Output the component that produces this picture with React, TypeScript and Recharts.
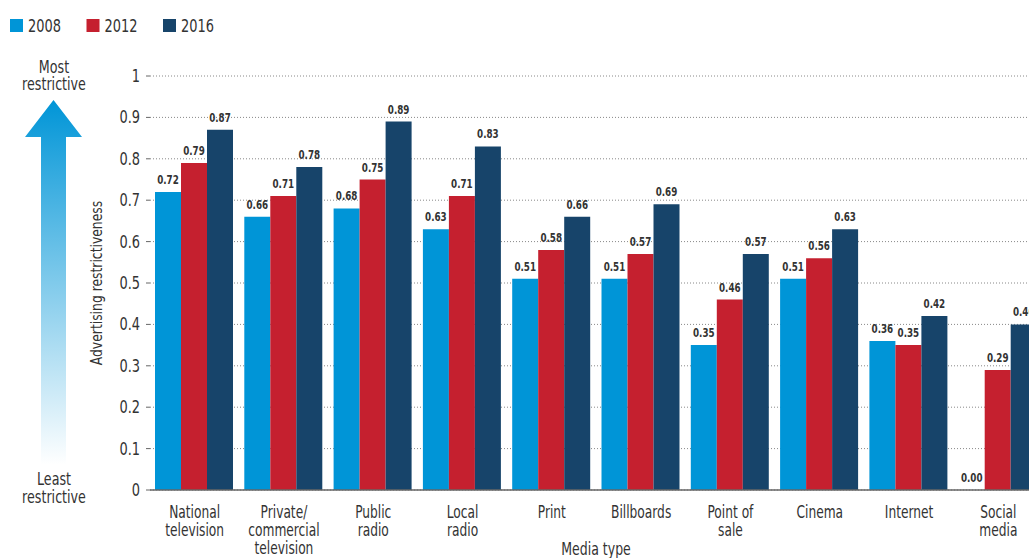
import { BarChart, Bar, XAxis, YAxis, CartesianGrid, LabelList } from 'recharts'

const categories = [
    'National\ntelevision',
    'Private/\ncommercial\ntelevision',
    'Public\nradio',
    'Local\nradio',
    'Print',
    'Billboards',
    'Point of\nsale',
    'Cinema',
    'Internet',
    'Social\nmedia'
]
const v2008 = [0.72, 0.66, 0.68, 0.63, 0.51, 0.51, 0.35, 0.51, 0.36, 0.0]
const v2012 = [0.79, 0.71, 0.75, 0.71, 0.58, 0.57, 0.46, 0.56, 0.35, 0.29]
const v2016 = [0.87, 0.78, 0.89, 0.83, 0.66, 0.69, 0.57, 0.63, 0.42, 0.4]
const yTicks = [0, 0.1, 0.2, 0.3, 0.4, 0.5, 0.6, 0.7, 0.8, 0.9, 1]

const series = [
    { key: 'y2008', name: '2008', color: '#0095d7' },
    { key: 'y2012', name: '2012', color: '#c5202f' },
    { key: 'y2016', name: '2016', color: '#17446a' }
]

const data = categories.map((c, i) => ({
    cat: c,
    y2008: v2008[i],
    y2012: v2012[i],
    y2016: v2016[i]
}))

const FONT = '"DejaVu Sans Condensed", "DejaVu Sans", sans-serif'
const INK = '#333'

// condensed text: squeeze horizontally to get the narrow look of the original
function Txt({ x, y, size = 17, sx = 0.8, anchor = 'middle', weight = 'normal', rotate = 0, children }: any) {
    return (
        <text
            transform={`translate(${x} ${y}) rotate(${rotate}) scale(${sx} 1)`}
            textAnchor={anchor}
            fontSize={size}
            fontWeight={weight}
            fill={INK}
            fontFamily={FONT}
        >
            {children}
        </text>
    )
}

function CatTick(props: any) {
    const { x, y, payload } = props
    const lines = String(payload.value).split('\n')
    return (
        <g>
            {lines.map((l, i) => (
                <Txt key={i} x={x} y={y + 26 + i * 18} size={17}>{l}</Txt>
            ))}
        </g>
    )
}

function ValTick(props: any) {
    const { x, y, payload } = props
    const v = payload.value
    const s = v === 0 ? '0' : v === 1 ? '1' : v.toFixed(1)
    return <Txt x={x} y={y + 6} size={18} anchor="end">{s}</Txt>
}

function ValLabel(props: any) {
    const { x, y, width, value } = props
    return (
        <Txt x={x + width / 2} y={y - 8} size={13} sx={0.75} weight="bold">
            {Number(value).toFixed(2)}
        </Txt>
    )
}

export default function App() {
    return (
        <div style={{ position: 'fixed', left: 0, top: 0, width: 1029, height: 558, overflow: 'hidden', background: '#fff' }}>
            <BarChart
                width={1050}
                height={570}
                data={data}
                margin={{ top: 76, right: 7, bottom: 0, left: 0 }}
                barCategoryGap={5}
                barGap={0}
                style={{ position: 'absolute', left: 0, top: 0 }}
            >
                <CartesianGrid vertical={false} stroke="#888" strokeDasharray="1 2" />
                <XAxis
                    dataKey="cat"
                    height={80}
                    interval={0}
                    tick={<CatTick />}
                    tickLine={false}
                    tickSize={0}
                    axisLine={{ stroke: '#666', strokeWidth: 1.5 }}
                    label={{ content: () => <Txt x={596} y={555} size={17} sx={0.82}>Media type</Txt> }}
                />
                <YAxis
                    width={150}
                    domain={[0, 1]}
                    ticks={yTicks}
                    axisLine={false}
                    tickSize={4}
                    tickMargin={6}
                    tickLine={{ stroke: '#666' }}
                    tick={<ValTick />}
                    label={{
                        content: () => (
                            <Txt x={102} y={283} size={16} sx={0.86} rotate={-90}>Advertising restrictiveness</Txt>
                        )
                    }}
                />
                {series.map((s) => (
                    <Bar key={s.key} dataKey={s.key} name={s.name} fill={s.color} minPointSize={0.01} isAnimationActive={false}>
                        <LabelList dataKey={s.key} content={<ValLabel />} />
                    </Bar>
                ))}
            </BarChart>

            {/* legend and restrictiveness arrow */}
            <svg style={{ position: 'absolute', left: 0, top: 0 }} width={240} height={558}>
                <defs>
                    <linearGradient id="arr" x1="0" y1="0" x2="0" y2="1">
                        <stop offset="0%" stopColor="#0095d7" />
                        <stop offset="100%" stopColor="#0095d7" stopOpacity={0} />
                    </linearGradient>
                </defs>
                {series.map((s, i) => (
                    <g key={s.key}>
                        <rect x={10 + i * 76.5} y={19} width={13} height={13} fill={s.color} />
                        <Txt x={28 + i * 76.5} y={32} size={18} anchor="start">{s.name}</Txt>
                    </g>
                ))}
                <path d="M53.5,100 L82,137 L66,137 L66,465 L41,465 L41,137 L25,137 Z" fill="url(#arr)" />
                <Txt x={54} y={73} sx={0.83}>Most</Txt>
                <Txt x={54} y={90} sx={0.83}>restrictive</Txt>
                <Txt x={54} y={485} sx={0.83}>Least</Txt>
                <Txt x={54} y={503} sx={0.83}>restrictive</Txt>
            </svg>
        </div>
    )
}
